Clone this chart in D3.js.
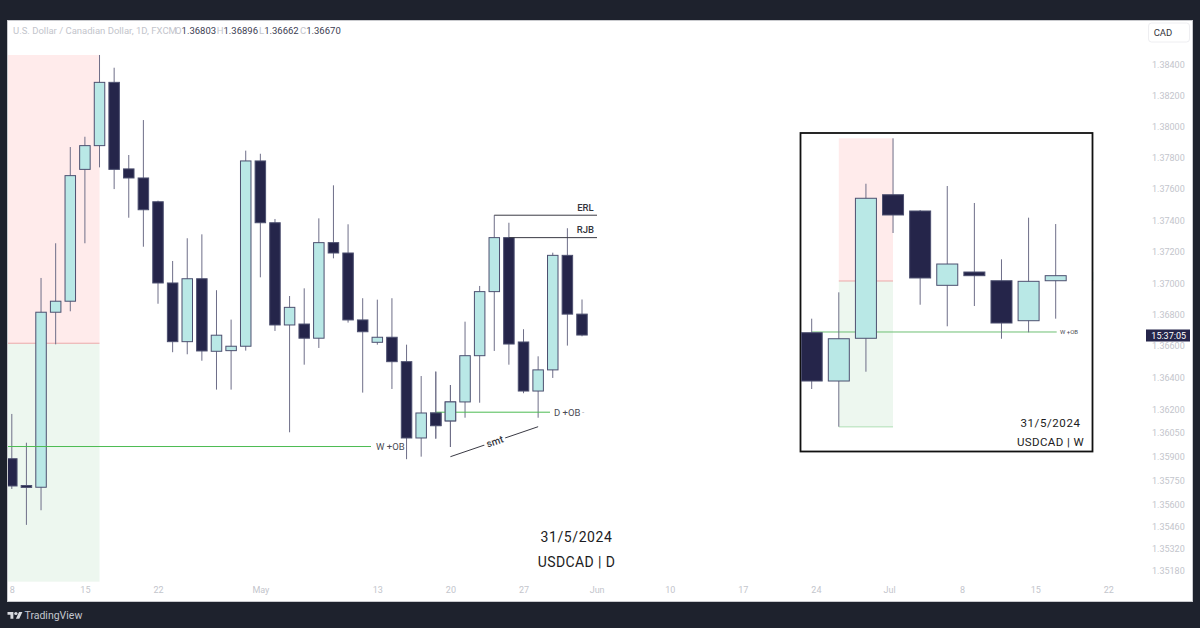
<!DOCTYPE html>
<html>
<head>
<meta charset="utf-8">
<script src="https://cdn.jsdelivr.net/npm/d3@7"></script>
<style>
html, body { margin: 0; padding: 0; background: #1e222d; }
svg { display: block; }
text { font-family: Roboto, sans-serif; }
</style>
</head>
<body>
<div id="chart"></div>
<script>
// daily candles, one per trading day from 8 Apr 2024
var dailyOpen = [1.35887, 1.35718, 1.35707, 1.36815, 1.36885, 1.37726, 1.37878, 1.38284, 1.37729, 1.37671,
    1.37519, 1.37001, 1.36628, 1.37028, 1.36567, 1.36571, 1.36599, 1.37780, 1.37385, 1.36734,
    1.36740, 1.36650, 1.37258, 1.37192, 1.36766, 1.36624, 1.36656, 1.36501, 1.36018, 1.36176,
    1.36126, 1.36246, 1.36539, 1.36946, 1.37290, 1.36626, 1.36315, 1.36449, 1.37177, 1.36803];
var dailyHigh = [1.36170, 1.35988, 1.37033, 1.37254, 1.37869, 1.37935, 1.38460, 1.38378, 1.37818, 1.38042,
    1.37526, 1.37141, 1.37286, 1.37311, 1.36955, 1.36768, 1.37846, 1.37826, 1.37409, 1.36918,
    1.36967, 1.37413, 1.37624, 1.37375, 1.36904, 1.36895, 1.36904, 1.36609, 1.36410, 1.36438,
    1.36353, 1.36755, 1.36982, 1.37433, 1.37385, 1.36707, 1.36535, 1.37194, 1.37350, 1.36896];
var dailyLow = [1.35696, 1.35470, 1.35562, 1.36611, 1.36821, 1.37254, 1.37739, 1.37600, 1.37417, 1.37232,
    1.36869, 1.36561, 1.36548, 1.36507, 1.36324, 1.36324, 1.36571, 1.37037, 1.36696, 1.36054,
    1.36482, 1.36588, 1.37158, 1.36749, 1.36305, 1.36609, 1.36328, 1.35884, 1.35900, 1.36014,
    1.35961, 1.36146, 1.36241, 1.36569, 1.36482, 1.36301, 1.36146, 1.36398, 1.36603, 1.36662];
var dailyClose = [1.35715, 1.35706, 1.36815, 1.36885, 1.37686, 1.37878, 1.38284, 1.37726, 1.37671, 1.37468,
    1.37001, 1.36628, 1.37028, 1.36569, 1.36669, 1.36599, 1.37780, 1.37385, 1.36734, 1.36846,
    1.36650, 1.37258, 1.37192, 1.36766, 1.36691, 1.36656, 1.36501, 1.36018, 1.36176, 1.36096,
    1.36246, 1.36539, 1.36946, 1.37290, 1.36613, 1.36315, 1.36449, 1.37177, 1.36803, 1.36670];

// weekly candles of the small box
var weeklyOpen = [1.35434, 1.34697, 1.35349, 1.37539, 1.37291, 1.36157, 1.36360, 1.36227, 1.35617, 1.36227, 1.36223];
var weeklyHigh = [1.35648, 1.36050, 1.37707, 1.38400, 1.37306, 1.37672, 1.37413, 1.36554, 1.37189, 1.37092, 1.36360];
var weeklyLow = [1.34575, 1.34000, 1.34839, 1.36955, 1.35861, 1.35532, 1.35841, 1.35342, 1.35440, 1.35648, 1.36223];
var weeklyClose = [1.34697, 1.35342, 1.37485, 1.37230, 1.36269, 1.36482, 1.36304, 1.35582, 1.36218, 1.36304, 1.36360];

var priceTicks = [1.384, 1.382, 1.38, 1.378, 1.376, 1.374, 1.372, 1.37, 1.368, 1.366, 1.364, 1.362,
    1.3605, 1.359, 1.3575, 1.356, 1.3546, 1.3532, 1.3518];
var dateTickBars = [0, 5, 10, 17, 25, 30, 35, 40, 45, 50, 55, 60, 65, 70, 75];
var dateTickNames = ["8", "15", "22", "May", "13", "20", "27", "Jun", "10", "17", "24", "Jul", "8", "15", "22"];

// zones and levels
var zoneTop = 1.38460, zoneMiddle = 1.36618, zoneBottom = 1.35113;
var weeklyObLevel = 1.35964, dailyObLevel = 1.36181;
var erlLevel = 1.37433, rjbLevel = 1.37290;
var smtFrom = 1.35900, smtTo = 1.36090;
var insetZoneTop = 1.384, insetZoneMiddle = 1.36223, insetZoneBottom = 1.340, insetObLevel = 1.35445;

var upColor = "#b9e8e6", downColor = "#25254a", edgeColor = "#4d5070", wickColor = "#6e6e88";
var green = "#4cbb52", axisColor = "#c3c5cc";

var svg = d3.select("#chart").append("svg").attr("width", 1200).attr("height", 628);

svg.append("rect").attr("x", 7.5).attr("y", 20.5).attr("width", 1185).attr("height", 581)
    .attr("fill", "#fff").attr("stroke", "#c9cace");

svg.append("clipPath").attr("id", "plot").append("rect")
    .attr("x", 8).attr("y", 21).attr("width", 1184).attr("height", 580);

var x = d3.scaleLinear().domain([0, 39]).range([11.8, 582]);
var y = d3.scaleLog().domain([1.3518, 1.384]).range([571, 64.3]);
var wx = d3.scaleLinear().domain([0, 9]).range([811.7, 1055.7]);
var wy = d3.scaleLinear().domain([1.34, 1.384]).range([426.7, 138.3]);

function makeCandles(open, high, low, close) {
    return open.map(function (o, i) {
        return { i: i, o: o, h: high[i], l: low[i], c: close[i] };
    });
}

function drawCandles(parent, data, xs, ys, bodyWidth) {
    var g = parent.selectAll(".candle").data(data).enter().append("g").attr("class", "candle");
    g.append("line")
        .attr("x1", function (d) { return xs(d.i); })
        .attr("x2", function (d) { return xs(d.i); })
        .attr("y1", function (d) { return ys(d.h); })
        .attr("y2", function (d) { return ys(d.l); })
        .attr("stroke", wickColor);
    g.append("rect")
        .attr("x", function (d) { return xs(d.i) - bodyWidth / 2; })
        .attr("y", function (d) { return ys(Math.max(d.o, d.c)); })
        .attr("width", bodyWidth)
        .attr("height", function (d) { return Math.abs(ys(d.o) - ys(d.c)); })
        .attr("fill", function (d) { return d.c > d.o ? upColor : downColor; })
        .attr("stroke", edgeColor);
}

// main chart
var main = svg.append("g").attr("clip-path", "url(#plot)");

main.append("rect").attr("x", x(-1)).attr("y", y(zoneTop))
    .attr("width", x(6) - x(-1)).attr("height", y(zoneMiddle) - y(zoneTop)).attr("fill", "#ffebeb");
main.append("rect").attr("x", x(-1)).attr("y", y(zoneMiddle))
    .attr("width", x(6) - x(-1)).attr("height", y(zoneBottom) - y(zoneMiddle)).attr("fill", "#edf7ef");
main.append("line").attr("x1", x(-1)).attr("x2", x(6)).attr("y1", y(zoneMiddle)).attr("y2", y(zoneMiddle))
    .attr("stroke", "#eba9a9");

drawCandles(main, makeCandles(dailyOpen, dailyHigh, dailyLow, dailyClose), x, y, 10.5);

main.append("line").attr("x1", x(-1)).attr("x2", 371).attr("y1", y(weeklyObLevel)).attr("y2", y(weeklyObLevel))
    .attr("stroke", green);
main.append("line").attr("x1", x(29)).attr("x2", 550).attr("y1", y(dailyObLevel)).attr("y2", y(dailyObLevel))
    .attr("stroke", green);
// redraw the candles that sit on top of the daily level
drawCandles(main.append("g"), makeCandles(dailyOpen, dailyHigh, dailyLow, dailyClose).slice(29, 31), x, y, 10.5);

main.append("line").attr("x1", x(33)).attr("x2", 597).attr("y1", y(erlLevel)).attr("y2", y(erlLevel))
    .attr("stroke", "#3a3a44");
main.append("line").attr("x1", x(34)).attr("x2", 597).attr("y1", y(rjbLevel)).attr("y2", y(rjbLevel))
    .attr("stroke", "#3a3a44");

function label(parent, tx, ty, txt, size, color, anchor) {
    return parent.append("text").attr("x", tx).attr("y", ty).attr("dy", "0.35em")
        .attr("text-anchor", anchor || "middle")
        .attr("font-size", size).attr("fill", color).text(txt);
}

label(svg, 585.5, 207.5, "ERL", 9.5, "#33343c").attr("font-weight", 500);
label(svg, 585.5, 230, "RJB", 9.5, "#33343c").attr("font-weight", 500);
label(svg, 376, y(weeklyObLevel), "W +OB", 9.5, "#4a4b55", "start");
label(svg, 554, y(dailyObLevel), "D +OB", 9.5, "#4a4b55", "start");
label(svg, 582, y(dailyObLevel), "-", 8, "#9a9ba3", "start");

// smt trend line, broken by its label
var smtX1 = x(30), smtX2 = x(36);
svg.append("line").attr("x1", smtX1).attr("x2", smtX2).attr("y1", 456.7).attr("y2", 426.7).attr("stroke", "#3a3a44");
var smtAngle = Math.atan2(426.7 - 456.7, smtX2 - smtX1) * 180 / Math.PI;
var smtG = svg.append("g").attr("transform", "translate(" + ((smtX1 + smtX2) / 2 + 0.5) + ",441.5) rotate(" + smtAngle + ")");
smtG.append("rect").attr("x", -11).attr("y", -7).attr("width", 22).attr("height", 14).attr("fill", "#fff");
label(smtG, 0, 0, "smt", 10, "#33343c").attr("font-weight", 500);

label(svg, 576.5, 537, "31/5/2024", 14, "#1c1c22").attr("letter-spacing", 0.6);
label(svg, 576.5, 562, "USDCAD | D", 14, "#1c1c22").attr("letter-spacing", 0.4);

// sliver of the next weekly candle shows right of the box
svg.append("rect").attr("x", wx(10) - 10.5).attr("y", wy(weeklyClose[10]))
    .attr("width", 21).attr("height", wy(weeklyOpen[10]) - wy(weeklyClose[10])).attr("fill", "#cdf0ee");

// inset box with the weekly chart
var inset = svg.append("g");
inset.append("rect").attr("x", 800.5).attr("y", 133).attr("width", 292).attr("height", 318.5)
    .attr("fill", "#fff").attr("stroke", "#111").attr("stroke-width", 1.8);

inset.append("clipPath").attr("id", "insetclip").append("rect")
    .attr("x", 801).attr("y", 134).attr("width", 291).attr("height", 317);
var insetPlot = inset.append("g").attr("clip-path", "url(#insetclip)");

insetPlot.append("rect").attr("x", wx(1)).attr("y", wy(insetZoneTop))
    .attr("width", wx(3) - wx(1)).attr("height", wy(insetZoneMiddle) - wy(insetZoneTop)).attr("fill", "#ffebeb");
insetPlot.append("rect").attr("x", wx(1)).attr("y", wy(insetZoneMiddle))
    .attr("width", wx(3) - wx(1)).attr("height", wy(insetZoneBottom) - wy(insetZoneMiddle)).attr("fill", "#edf7ef");
insetPlot.append("line").attr("x1", wx(1)).attr("x2", wx(3)).attr("y1", wy(insetZoneMiddle)).attr("y2", wy(insetZoneMiddle))
    .attr("stroke", "#eba9a9");
insetPlot.append("line").attr("x1", wx(1)).attr("x2", wx(3)).attr("y1", wy(insetZoneBottom)).attr("y2", wy(insetZoneBottom))
    .attr("stroke", "#c6e8ca").attr("stroke-width", 1.5);
insetPlot.append("line").attr("x1", wx(0)).attr("x2", 1056.7).attr("y1", wy(insetObLevel)).attr("y2", wy(insetObLevel))
    .attr("stroke", "#6dbf73");

drawCandles(insetPlot, makeCandles(weeklyOpen, weeklyHigh, weeklyLow, weeklyClose).slice(0, 10), wx, wy, 21);

label(inset, 1060, wy(insetObLevel), "W +OB", 6, "#4a4b55", "start");
label(inset, 1050.5, 422.5, "31/5/2024", 11.5, "#1c1c22").attr("letter-spacing", 0.6);
label(inset, 1050.5, 441.5, "USDCAD | W", 11.5, "#1c1c22").attr("letter-spacing", 0.4);

// axes
var yAxis = d3.axisRight(y).tickValues(priceTicks).tickSize(0).tickPadding(0)
    .tickFormat(function (d) { return d3.format(".5f")(d); });
var yG = svg.append("g").attr("transform", "translate(1152,0)").call(yAxis);
yG.select(".domain").remove();
yG.selectAll("text").attr("fill", axisColor).attr("font-size", 9).attr("font-family", "Roboto, sans-serif");

var xAxis = d3.axisBottom(x).tickValues(dateTickBars).tickSize(0).tickPadding(0)
    .tickFormat(function (d, i) { return dateTickNames[i]; });
var xG = svg.append("g").attr("transform", "translate(0,587)").call(xAxis);
xG.select(".domain").remove();
xG.selectAll("text").attr("fill", axisColor).attr("font-size", 9).attr("font-family", "Roboto, sans-serif");

// header
label(svg, 13, 30.5, "U.S. Dollar / Canadian Dollar, 1D, FXCM", 9.5, axisColor, "start");
var ohlcNames = ["O", "H", "L", "C"];
var lastBar = dailyOpen.length - 1;
var ohlcValues = [dailyOpen[lastBar], dailyHigh[lastBar], dailyLow[lastBar], dailyClose[lastBar]];
var ohlcStart = [175, 216.7, 259, 300];
ohlcNames.forEach(function (n, i) {
    var t = label(svg, ohlcStart[i], 30.5, "", 9.5, axisColor, "start");
    t.append("tspan").text(n);
    t.append("tspan").attr("fill", "#3c3d52").text(d3.format(".5f")(ohlcValues[i]));
});

// currency button and countdown
svg.append("rect").attr("x", 1148.5).attr("y", 23).attr("width", 41).attr("height", 19).attr("rx", 3)
    .attr("fill", "#fff").attr("stroke", "#eeeef1");
label(svg, 1163, 32.5, "CAD", 9.5, "#33343c");

svg.append("rect").attr("x", 1146).attr("y", 329.5).attr("width", 44).attr("height", 12).attr("fill", downColor);
label(svg, 1168.7, 335.5, "15:37:05", 9, "#fff");

// TradingView logo
var logo = svg.append("g").attr("transform", "translate(7.5,610.5) scale(0.42,0.38)").attr("fill", "#d8dae0");
logo.append("path").attr("d", "M14 22H7V11H0V4h14v18zM28 22h-8l7.5-18h8L28 22z");
logo.append("circle").attr("cx", 20).attr("cy", 8).attr("r", 4);
label(svg, 24.5, 615, "TradingView", 10.5, "#c4c7cf", "start");
</script>
</body>
</html>
